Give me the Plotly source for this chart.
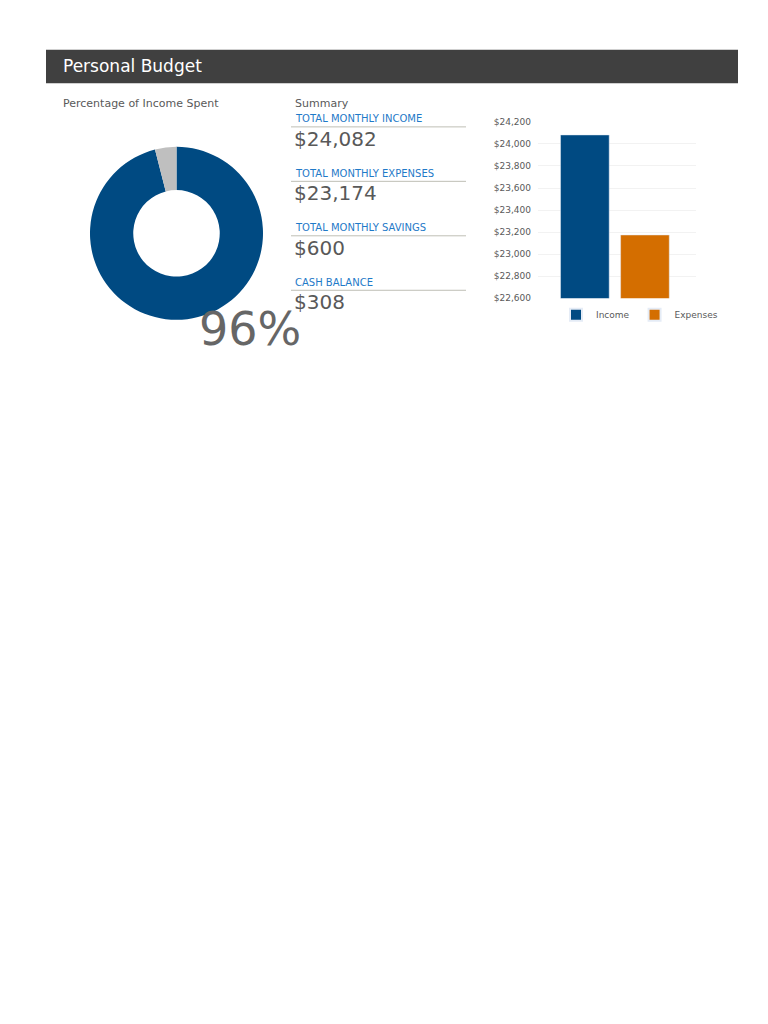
import plotly.graph_objects as go

W, H = 768, 1024
spent_labels = ["Spent", "Remaining"]
spent_values = [96, 4]
pct_text = "96%"

summary_labels = ["TOTAL MONTHLY INCOME", "TOTAL MONTHLY EXPENSES", "TOTAL MONTHLY SAVINGS", "CASH BALANCE"]
summary_values = ["$24,082", "$23,174", "$600", "$308"]

bar_names = ["Income", "Expenses"]
bar_values = [24082, 23174]
bar_colors = ["#004a82", "#d46e00"]
y_ticks = [22600, 22800, 23000, 23200, 23400, 23600, 23800, 24000, 24200]


def px(x):
    return x / W


def py(y):
    return 1 - y / H


fig = go.Figure()
fig.add_trace(go.Pie(labels=spent_labels, values=spent_values, hole=0.5, sort=False,
                     direction="clockwise", rotation=0,
                     marker=dict(colors=["#004a82", "#bfbfbf"]),
                     textinfo="none", showlegend=False, hoverinfo="skip",
                     domain=dict(x=[px(82), px(255)], y=[py(312), py(133)])))

for i, (n, v) in enumerate(zip(bar_names, bar_values)):
    fig.add_trace(go.Bar(x=[i], y=[v], name=n, marker_color=bar_colors[i], width=0.81,
                         base=None))

fig.update_layout(
    width=W, height=H, margin=dict(l=0, r=0, t=0, b=0),
    paper_bgcolor="white", plot_bgcolor="white",
    font=dict(family="DejaVu Sans", color="#595959"),
    xaxis=dict(domain=[px(530), px(688)], range=[-0.78, 1.85], showticklabels=False,
               showgrid=False, zeroline=False),
    yaxis=dict(domain=[py(288), py(110)], range=[22600, 24200], tickvals=y_ticks,
               tickformat="$,d", tickfont=dict(size=9, color="#595959"),
               gridcolor="#f2f2f2", zeroline=False, ticks="", ticklabelstandoff=6),
    legend=dict(orientation="h", x=px(548), y=py(290), xanchor="left", yanchor="top",
                font=dict(size=9), itemwidth=30, traceorder="normal", itemsizing="constant"),
    barmode="overlay",
    shapes=[dict(type="rect", xref="paper", yref="paper", x0=px(38), x1=px(730),
                 y0=py(71), y1=py(37), fillcolor="#404040", line_width=0, layer="below")],
)

ann = [
    dict(text="Personal Budget", x=px(53), y=py(54), font=dict(size=17, color="white")),
    dict(text="Percentage of Income Spent", x=px(53), y=py(91), font=dict(size=11)),
    dict(text="Summary", x=px(285), y=py(91), font=dict(size=11)),
]
for i, (lab, val) in enumerate(zip(summary_labels, summary_values)):
    y0 = 107 + i * 55
    ann.append(dict(text=lab, x=px(285), y=py(y0), font=dict(size=10, color="#1f7ac8")))
    ann.append(dict(text=val, x=px(284), y=py(y0 + 20), font=dict(size=20, color="#595959")))
    fig.add_shape(type="line", xref="paper", yref="paper", x0=px(283), x1=px(458),
                  y0=py(y0 + 8), y1=py(y0 + 8), line=dict(color="#bfbfb5", width=1))
for a in ann:
    a.update(xref="paper", yref="paper", xanchor="left", yanchor="middle", showarrow=False)
    fig.add_annotation(**a)
fig.add_annotation(text=pct_text, xref="paper", yref="paper", x=px(189), y=py(290),
                   showarrow=False, font=dict(size=46, color="#666666"))

fig.write_html("out.html")
